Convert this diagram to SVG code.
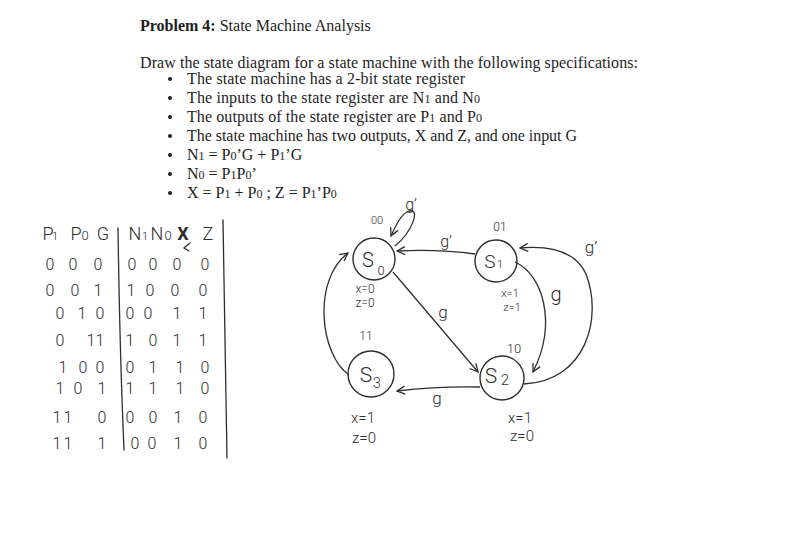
<svg xmlns="http://www.w3.org/2000/svg" width="811" height="545" viewBox="0 0 811 545">
<style>
.pr{font-family:"Liberation Serif","Times New Roman",serif;fill:#1e1e1e;font-size:16px}
.hw{font-family:Roboto,"Liberation Sans",sans-serif;font-weight:300;fill:#2e2e2e;text-anchor:middle}
.t{font-size:16px}
.ln{fill:none;stroke:#2e2e2e;stroke-width:1.3;stroke-linecap:round}
.ed{fill:none;stroke:#2e2e2e;stroke-width:1.3;marker-end:url(#ah)}
.st{fill:none;stroke:#2e2e2e;stroke-width:1.4}
</style>
<defs>
<marker id="ah" viewBox="0 0 10 10" refX="9" refY="5" markerWidth="10" markerHeight="10" markerUnits="userSpaceOnUse" orient="auto">
<path d="M1,1 L9,5 L1,9" fill="none" stroke="#2e2e2e" stroke-width="1.3"/>
</marker>
</defs>
<rect width="811" height="545" fill="#fff"/>
<g id="header">
<text class="pr" x="140" y="31" font-size="18"><tspan font-weight="bold">Problem 4:</tspan> State Machine Analysis</text>
<text class="pr" x="140" y="68" textLength="498" lengthAdjust="spacing">Draw the state diagram for a state machine with the following specifications:</text>
<g fill="#1e1e1e"><circle cx="170" cy="79" r="2"/><circle cx="170" cy="98" r="2"/><circle cx="170" cy="117" r="2"/><circle cx="170" cy="136" r="2"/><circle cx="170" cy="155" r="2"/><circle cx="170" cy="174" r="2"/><circle cx="170" cy="193" r="2"/></g>
<text class="pr" x="187" y="84" textLength="278" lengthAdjust="spacing">The state machine has a 2-bit state register</text>
<text class="pr" x="187" y="103" textLength="293" lengthAdjust="spacing">The inputs to the state register are N<tspan font-size="12">1</tspan> and N<tspan font-size="12">0</tspan></text>
<text class="pr" x="187" y="122" textLength="295" lengthAdjust="spacing">The outputs of the state register are P<tspan font-size="12">1</tspan> and P<tspan font-size="12">0</tspan></text>
<text class="pr" x="187" y="141" textLength="390" lengthAdjust="spacing">The state machine has two outputs, X and Z, and one input G</text>
<text class="pr" x="187" y="160">N<tspan font-size="12">1</tspan> = P<tspan font-size="12">0</tspan>’G + P<tspan font-size="12">1</tspan>’G</text>
<text class="pr" x="187" y="179">N<tspan font-size="12">0</tspan> = P<tspan font-size="12">1</tspan>P<tspan font-size="12">0</tspan>’</text>
<text class="pr" x="187" y="198">X = P<tspan font-size="12">1</tspan> + P<tspan font-size="12">0</tspan> ; Z = P<tspan font-size="12">1</tspan>’P<tspan font-size="12">0</tspan></text>
</g>
<g id="table">
<path class="ln" d="M118,228 C119,300 121,380 124,450"/>
<path class="ln" d="M223,220 C224,300 226,380 227,458"/>
<g class="hw" font-size="18">
<text x="48" y="240">P</text><text x="55" y="240" font-size="11">1</text>
<text x="76" y="240">P</text><text x="85" y="240" font-size="13">0</text>
<text x="103" y="240">G</text>
<text x="135" y="240">N</text><text x="145" y="240" font-size="11">1</text>
<text x="157" y="240">N</text><text x="168" y="240" font-size="13">0</text>
<text x="183" y="240" font-weight="bold">X</text>
<text x="208" y="240">Z</text>
</g>
<path class="ln" d="M190,243 L184,248 L189,251"/>
<g class="hw t">
<text x="50" y="270">0</text><text x="73" y="270">0</text><text x="98" y="270">0</text><text x="132" y="270">0</text><text x="153" y="270">0</text><text x="177" y="270">0</text><text x="205" y="270">0</text>
<text x="50" y="296">0</text><text x="75" y="296">0</text><text x="98" y="296">1</text><text x="131" y="296">1</text><text x="150" y="296">0</text><text x="175" y="296">0</text><text x="203" y="296">0</text>
<text x="60" y="319">0</text><text x="82" y="319">1</text><text x="100" y="319">0</text><text x="130" y="319">0</text><text x="148" y="319">0</text><text x="177" y="319">1</text><text x="203" y="319">1</text>
<text x="60" y="346">0</text><text x="91" y="346">1</text><text x="100" y="346">1</text><text x="130" y="346">1</text><text x="153" y="346">0</text><text x="177" y="346">1</text><text x="203" y="346">1</text>
<text x="63" y="373">1</text><text x="83" y="373">0</text><text x="100" y="373">0</text><text x="130" y="373">0</text><text x="153" y="373">1</text><text x="180" y="373">1</text><text x="205" y="373">0</text>
<text x="60" y="394">1</text><text x="78" y="394">0</text><text x="102" y="394">1</text><text x="130" y="394">1</text><text x="153" y="394">1</text><text x="180" y="394">1</text><text x="205" y="394">0</text>
<text x="57" y="423">1</text><text x="68" y="423">1</text><text x="102" y="423">0</text><text x="130" y="423">0</text><text x="153" y="423">0</text><text x="178" y="423">1</text><text x="203" y="423">0</text>
<text x="57" y="449">1</text><text x="68" y="449">1</text><text x="102" y="449">1</text><text x="135" y="449">0</text><text x="152" y="449">0</text><text x="178" y="449">1</text><text x="203" y="449">0</text>
</g>
</g>
<g id="edges">
<path class="ed" d="M395,246 C412,232 421,208 409,211 C401,214 396,225 391,236"/>
<path class="ed" d="M475,254 Q440,249 397,251"/>
<path class="ed" d="M393,272 L478,372"/>
<path class="ed" d="M515,262 C542,274 558,322 533,372"/>
<path class="ed" d="M524,384 C586,381 603,318 586,274 C577,254 556,245 520,248"/>
<path class="ed" d="M480,387 Q440,386 397,391"/>
<path class="ed" d="M349,375 C320,355 312,280 348,253"/>
<g class="hw">
<text x="411" y="210" font-size="16">g’</text>
<text x="446" y="247" font-size="16">g’</text>
<text x="443" y="318" font-size="17">g</text>
<text x="556" y="301" font-size="20">g</text>
<text x="591" y="253" font-size="17">g’</text>
<text x="437" y="404" font-size="17">g</text>
</g>
</g>
<g id="S0">
<circle class="st" cx="374" cy="259" r="21"/>
<text class="hw" x="368" y="267" font-size="20">S</text><text class="hw" x="381" y="275" font-size="13">0</text>
<text class="hw" x="377" y="224" font-size="11">00</text>
<text class="hw" x="365" y="293" font-size="12">x=0</text>
<text class="hw" x="365" y="307" font-size="12">z=0</text>
</g>
<g id="S1">
<circle class="st" cx="496" cy="261" r="21"/>
<text class="hw" x="490" y="268" font-size="19">S</text><text class="hw" x="500" y="268" font-size="11">1</text>
<text class="hw" x="500" y="231" font-size="12">01</text>
<text class="hw" x="510" y="297" font-size="11">x=1</text>
<text class="hw" x="512" y="311" font-size="11">z=1</text>
</g>
<g id="S2">
<circle class="st" cx="502" cy="378" r="22"/>
<text class="hw" x="491" y="383" font-size="21">S</text><text class="hw" x="505" y="385" font-size="15">2</text>
<text class="hw" x="514" y="353" font-size="13">10</text>
<text class="hw" x="520" y="423" font-size="15">x=1</text>
<text class="hw" x="522" y="441" font-size="15">z=0</text>
</g>
<g id="S3">
<circle class="st" cx="371" cy="374" r="23"/>
<text class="hw" x="366" y="382" font-size="21">S</text><text class="hw" x="377" y="388" font-size="14">3</text>
<text class="hw" x="366" y="340" font-size="12">11</text>
<text class="hw" x="363" y="423" font-size="15">x=1</text>
<text class="hw" x="364" y="443" font-size="15">z=0</text>
</g>
</svg>
